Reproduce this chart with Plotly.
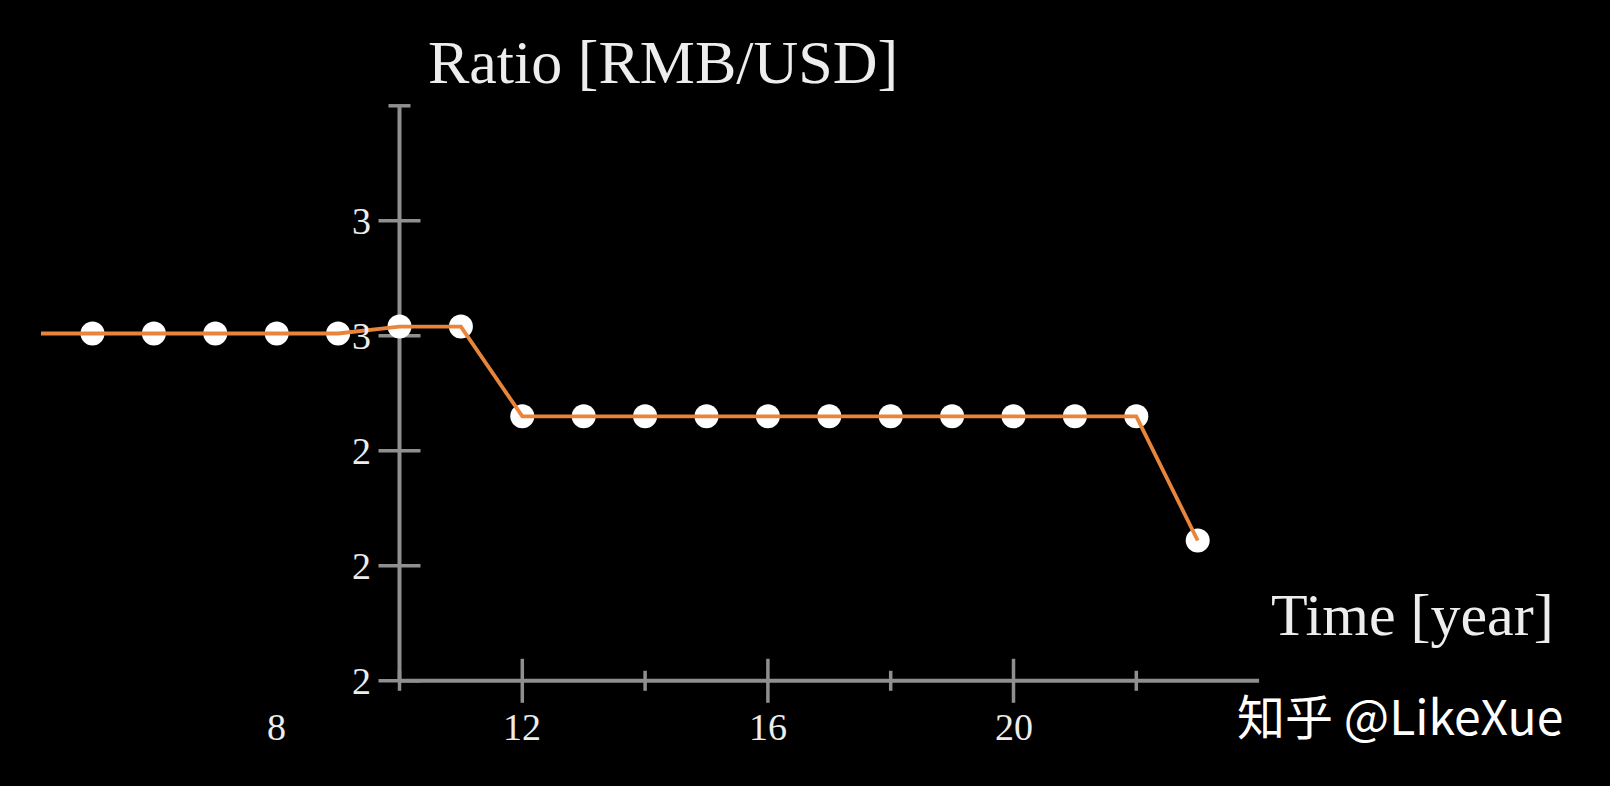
import plotly.graph_objects as go

# data
years = [4, 5, 6, 7, 8, 9, 10, 11, 12, 13, 14, 15, 16, 17, 18, 19, 20, 21, 22, 23]
ratio = [2.755, 2.755, 2.755, 2.755, 2.755, 2.755, 2.77, 2.77,
         2.575, 2.575, 2.575, 2.575, 2.575, 2.575, 2.575, 2.575, 2.575, 2.575, 2.575, 2.305]

x_major = [12, 16, 20]
x_minor = [10, 14, 18, 22]
x_labels_vals = [8, 12, 16, 20]
x_labels_text = ["8", "12", "16", "20"]

y_ticks = [2.0, 2.25, 2.5, 2.75, 3.0]
y_labels_text = ["2", "2", "2", "3", "3"]
y_top = 3.25
x_origin = 10
x_end = 24
y_origin = 2.0

W, H = 1610, 786
ML = 41

AXIS = "#8f8f8f"
ORANGE = "#E8853A"
TEXT = "#EDEDED"
SERIF = "Liberation Serif, Times New Roman, serif"


def px(x, y):
    # figure pixel -> paper coords of the plot area
    return (x - ML) / (W - ML), 1 - y / H


fig = go.Figure()

# dots first so the line sits on top of them
fig.add_trace(go.Scatter(x=years[1:], y=ratio[1:], mode="markers",
                         marker=dict(size=24, color="white", line=dict(width=0)),
                         hoverinfo="skip", showlegend=False))
fig.add_trace(go.Scatter(x=years, y=ratio, mode="lines",
                         line=dict(color=ORANGE, width=3.8),
                         hoverinfo="skip", showlegend=False))

shapes = []
# axis lines
shapes.append(dict(type="line", xref="x", yref="y", x0=x_origin, x1=x_end, y0=y_origin, y1=y_origin,
                   line=dict(color=AXIS, width=4), layer="below"))
shapes.append(dict(type="line", xref="x", yref="y", x0=x_origin, x1=x_origin, y0=y_origin, y1=y_top,
                   line=dict(color=AXIS, width=4), layer="below"))
# x ticks
for t in x_major:
    shapes.append(dict(type="line", xref="x", yref="y", x0=t, x1=t, ysizemode="pixel", yanchor=y_origin,
                       y0=-22, y1=22, line=dict(color=AXIS, width=3.5), layer="below"))
for t in x_minor:
    shapes.append(dict(type="line", xref="x", yref="y", x0=t, x1=t, ysizemode="pixel", yanchor=y_origin,
                       y0=-10, y1=10, line=dict(color=AXIS, width=3.5), layer="below"))
# y ticks
for t in y_ticks:
    shapes.append(dict(type="line", xref="x", yref="y", y0=t, y1=t, xsizemode="pixel", xanchor=x_origin,
                       x0=-21, x1=21, line=dict(color=AXIS, width=3.5), layer="below"))
shapes.append(dict(type="line", xref="x", yref="y", y0=y_top, y1=y_top, xsizemode="pixel", xanchor=x_origin,
                   x0=-11, x1=11, line=dict(color=AXIS, width=3.5), layer="below"))

annotations = []
for v, s in zip(x_labels_vals, x_labels_text):
    annotations.append(dict(x=v, y=y_origin, xref="x", yref="y", text=s, showarrow=False,
                            xanchor="center", yanchor="middle",
                            yshift=-46, font=dict(family=SERIF, size=38, color=TEXT)))
for v, s in zip(y_ticks, y_labels_text):
    annotations.append(dict(x=x_origin, y=v, xref="x", yref="y", text=s, showarrow=False,
                            xanchor="center", yanchor="middle",
                            xshift=-38, font=dict(family=SERIF, size=38, color=TEXT)))

tx, ty = px(663, 62)
annotations.append(dict(x=tx, y=ty, xref="paper", yref="paper", text="Ratio [RMB/USD]",
                        showarrow=False, xanchor="center", yanchor="middle",
                        font=dict(family=SERIF, size=62, color=TEXT)))
tx, ty = px(1412, 615)
annotations.append(dict(x=tx, y=ty, xref="paper", yref="paper", text="Time [year]",
                        showarrow=False, xanchor="center", yanchor="middle",
                        font=dict(family=SERIF, size=60, color=TEXT)))
tx, ty = px(1400, 714)
annotations.append(dict(x=tx, y=ty, xref="paper", yref="paper", text="知乎 @LikeXue",
                        showarrow=False, xanchor="center", yanchor="middle",
                        font=dict(family="Noto Sans CJK SC", size=48, color="white")))

fig.update_layout(
    width=W, height=H,
    margin=dict(l=ML, r=0, t=0, b=0),
    paper_bgcolor="black", plot_bgcolor="black",
    xaxis=dict(range=[10 - 358.5 / 61.4, 10 + 1210.5 / 61.4], visible=False),
    yaxis=dict(range=[2 - 105.2 / 460, 2 + 680.8 / 460], visible=False),
    shapes=shapes, annotations=annotations,
    showlegend=False,
)

fig.write_html("out.html", config={"displayModeBar": False},
               post_script="document.body.style.margin='0';document.body.style.background='black';"
                           "document.body.style.overflow='hidden';")
